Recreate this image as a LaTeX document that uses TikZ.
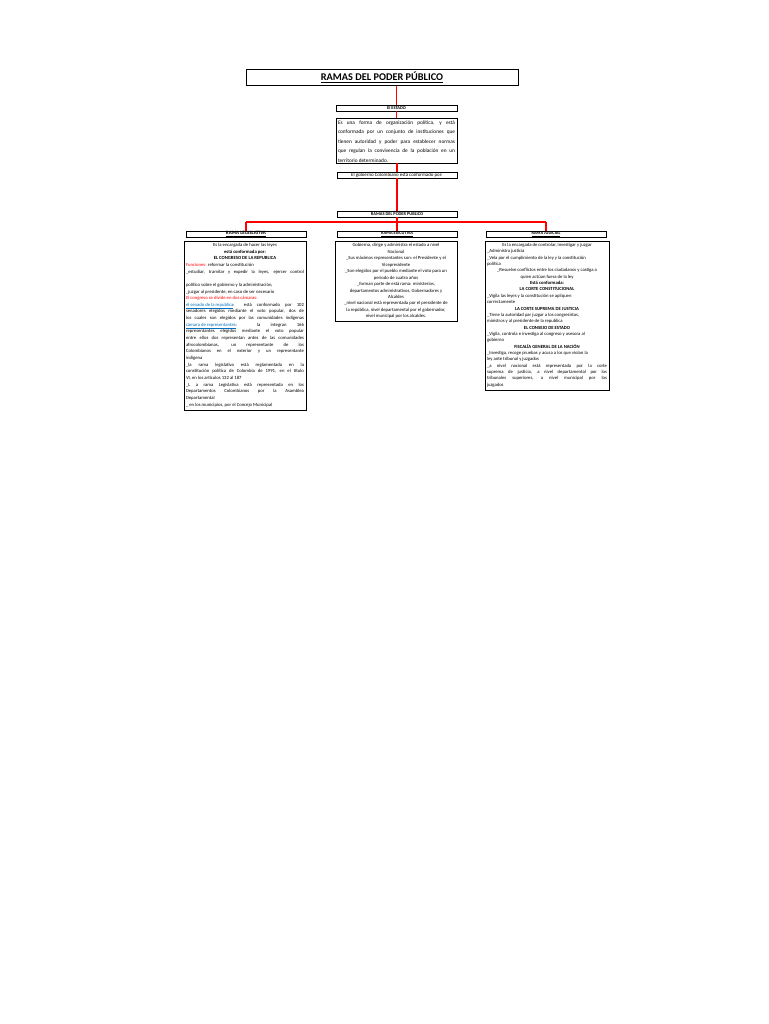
\documentclass[tikz,border=0pt]{standalone}
\usepackage{fontspec}
\setmainfont{Carlito}
\setlength{\parindent}{0pt}
\hbadness=10000
\hfuzz=20pt
\definecolor{lnkblue}{RGB}{0,112,192}
\newcommand{\lnk}[1]{\textcolor{lnkblue}{\underline{#1}}}
\newcommand{\jl}[1]{\hbox to \hsize{#1}}
\newcommand{\lft}[1]{\hbox to \hsize{#1\hfil}}
\newcommand{\cl}[1]{\hbox to \hsize{\hfil#1\hfil}}
\tikzset{
  box/.style={draw=black, line width=0.8pt, fill=white, inner sep=0pt},
  hbox/.style={box, minimum height=6pt},
  txt/.style={inner sep=0pt, anchor=base},
  redline/.style={draw=red, line width=1.2pt},
}
\begin{document}
\begin{tikzpicture}[x=1pt,y=-1pt]
\fill[white] (0,0) rectangle (768,1024);
\useasboundingbox (0,0) rectangle (768,1024);

% title
\fill[black!45] (247,70.5) rectangle (519,86.5);
\node[box, line width=0.9pt, minimum width=272pt, minimum height=16pt] (title) at (382,77.5)
  {\raisebox{-1.5pt}{\fontsize{10.3}{11}\selectfont\bfseries\underline{RAMAS DEL PODER PÚBLICO}}};

% estado
\node[hbox, minimum width=121pt] (estado) at (396.5,108)
  {\raisebox{0.3pt}{\fontsize{4.4}{4.5}\selectfont\bfseries El ESTADO}};
\node[box, minimum width=121pt, minimum height=45pt] (estadotxt) at (396.5,140.5) {};
\node[txt] (estadotext) at (396.5,124.5)
  {\vtop{\hsize=117pt\fontsize{5.3}{9.4}\selectfont
   \jl{Es una forma de organización política, y está}
   \jl{conformada por un conjunto de instituciones que}
   \jl{tienen autoridad y poder para establecer normas}
   \jl{que regulan la convivencia de la población en un}
   \lft{territorio determinado.}}};
\node[hbox, minimum width=120pt] (gob) at (397,175)
  {\fontsize{4.9}{5}\selectfont El gobierno Colombiano está conformado por:};

\node[hbox, minimum width=120pt] (ramas) at (397,214)
  {\fontsize{4.4}{4.5}\selectfont\bfseries RAMAS DEL PODER PUBLICO};

% ramas headers
\node[hbox, minimum width=120pt] (leg) at (246,234)
  {\raisebox{-0.4pt}{\fontsize{5}{5}\selectfont\bfseries\underline{RAMA LEGISLATIVA}}};
\node[hbox, minimum width=120pt] (eje) at (397,234)
  {\raisebox{1pt}{\fontsize{4.4}{4.5}\selectfont\bfseries\underline{RAMA EJECUTIVA}}};
\node[hbox, minimum width=120pt] (jud) at (546,234)
  {\raisebox{1pt}{\fontsize{4.4}{4.5}\selectfont\bfseries\underline{RAMA JUDICIAL}}};

% red connectors
\coordinate (hl) at (397,222);
\draw[redline] (title.south -| estado.north) -- (estado.north);
\draw[redline] (estado.south) -- (estadotxt.north);
\draw[redline] (estadotxt.south -| gob.north) -- (gob.north);
\draw[redline] (gob.south) -- (ramas.north);
\draw[redline] (ramas.south) -- (eje.north);
\draw[redline] (hl -| leg.north) -- (hl -| jud.north);
\draw[redline] (hl -| leg.north) -- (leg.north);
\draw[redline] (hl -| jud.north) -- (jud.north);

% content boxes
\node[box, minimum width=122pt, minimum height=169pt] (legbox) at (245,325.5) {};
\node[box, minimum width=122pt, minimum height=80pt] (ejebox) at (396,281) {};
\node[box, minimum width=124pt, minimum height=149pt] (judbox) at (547,315.5) {};

\node[txt] (legtext) at (245,246.5)
{\vtop{\hsize=118pt\fontsize{4.7}{6.65}\selectfont
\cl{Es la encargada de hacer las leyes}
\cl{\textbf{está conformada por:}}
\cl{\textbf{EL CONGRESO DE LA REPUBLICA}}
\lft{\textcolor{red}{Funciones:} reformar la constitución}
\jl{\_estudiar, tramitar y expedir la leyes, ejercer control}
\lft{}
\lft{político sobre el gobierno y la administración,}
\lft{\_juzgar al presidente, en caso de ser necesario}
\lft{\textcolor{red}{El congreso se divide en dos cámaras:}}
\jl{\lnk{el senado de la republica}: está conformado por 102}
\jl{senadores elegidos mediante el voto popular, dos de}
\jl{los cuales son elegidos por las comunidades indígenas}
\jl{\lnk{cámara de representantes}: la integran 166}
\jl{representantes elegidos mediante el voto popular}
\jl{entre ellos dos representan antes de las comunidades}
\jl{afrocolombianas, un representante de los}
\jl{Colombianos en el exterior y un representante}
\lft{indígena}
\jl{\_la rama legislativa está reglamentada en la}
\jl{constitución política de Colombia de 1991, en el título}
\lft{VI, en los artículos 132 al 187}
\jl{\_L a rama Legislativa está representada en los}
\jl{Departamentos Colombianos por la Asamblea}
\lft{Departamental}
\lft{\_ en los municipios, por el Concejo Municipal}}};

\node[txt] (ejetext) at (396,247)
{\vtop{\hsize=120pt\fontsize{4.7}{6.43}\selectfont
\cl{Gobierna, dirige y administra el estado a nivel}
\cl{Nacional}
\cl{\_Sus máximos representantes son: el Presidente y el}
\cl{Vicepresidente}
\cl{\_Son elegidos por el pueblo mediante el voto para un}
\cl{periodo de cuatro años}
\cl{\_forman parte de está rama: ministerios,}
\cl{departamentos administrativos, Gobernadores y}
\cl{Alcaldes}
\cl{\_nivel nacional está representada por el presidente de}
\cl{la república, nivel departamental por el gobernador,}
\cl{nivel municipal por los alcaldes.}}};

\node[txt] (judtext) at (547,246.5)
{\vtop{\hsize=120pt\fontsize{4.7}{6.35}\selectfont
\cl{Es la encargada de controlar, investigar y juzgar}
\lft{\_Administra justicia}
\lft{\_Vela por el cumplimiento de la ley y la constitución}
\lft{política}
\cl{\_Resuelve conflictos entre los ciudadanos y castiga a}
\cl{quien actúan fuera de la ley}
\cl{\textbf{Está conformada:}}
\cl{\textbf{LA CORTE CONSTITUCIONAL}}
\lft{\_Vigila las leyes y la constitución se apliquen}
\lft{correctamente}
\cl{\textbf{LA CORTE SUPREMA DE JUSTICIA}}
\lft{\_Tiene la autoridad par juzgar a los congresistas,}
\lft{ministros y al presidente de la republica}
\cl{\textbf{EL CONSEJO DE ESTADO}}
\lft{\_Vigila, controla e investiga al congreso y asesora al}
\lft{gobierno}
\cl{\textbf{FISCALÍA GENERAL DE LA NACIÓN}}
\lft{\_Investiga, recoge pruebas y acusa a los que violan la}
\lft{ley ante tribunal y juzgados}
\jl{\_a nivel nacional está representada por la corte}
\jl{suprema de justicia, a nivel departamental por los}
\jl{tribunales superiores, a nivel municipal por los}
\lft{juzgados}}};
\end{tikzpicture}
\end{document}
